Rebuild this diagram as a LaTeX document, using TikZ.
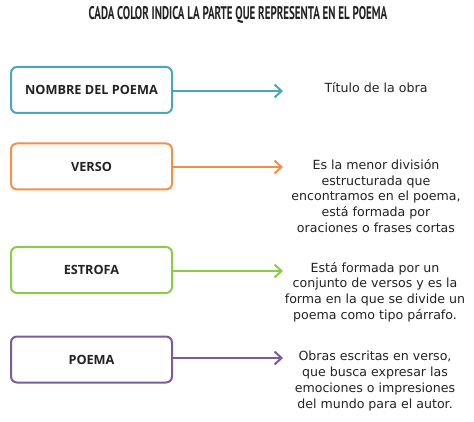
\documentclass[tikz,border=0pt]{standalone}
\usepackage{fontspec}
\setmainfont{DejaVu Sans}
\newfontfamily\boxfont{Open Sans}
\newfontfamily\titlefont[FakeStretch=0.6]{PT Sans}
\usetikzlibrary{arrows.meta}
\definecolor{cblue}{HTML}{4AA6BE}
\definecolor{corange}{HTML}{F0904A}
\definecolor{cgreen}{HTML}{8CCB4A}
\definecolor{cpurple}{HTML}{7A5C9E}
\definecolor{txt}{HTML}{222222}
\tikzset{
  labelbox/.style={draw=#1, line width=2pt, rounded corners=6pt, minimum width=161pt, minimum height=46pt, inner sep=0pt, font=\boxfont\bfseries\fontsize{12.7}{14}\selectfont, text=txt},
  conn/.style={draw=#1, line width=2pt, -{Straight Barb[length=7pt,width=13pt,line width=2pt]}},
  desc/.style={align=center, font=\fontsize{12.6}{15.8}\selectfont, text=txt, inner sep=0pt},
}
\begin{document}
\begin{tikzpicture}[x=1pt,y=-1pt]
\useasboundingbox (0,0) rectangle (474,422);
\node[font=\titlefont\bfseries\fontsize{18.3}{20}\selectfont, text=txt] (title) at (238,15) {CADA COLOR INDICA LA PARTE QUE REPRESENTA EN EL POEMA};

\node[labelbox=cblue] (b1) at (91.5,90) {NOMBRE DEL POEMA};
\node[labelbox=corange] (b2) at (91.5,166.5) {VERSO};
\node[labelbox=cgreen] (b3) at (91.5,270) {ESTROFA};
\node[labelbox=cpurple] (b4) at (91.5,359.5) {POEMA};

\coordinate (e1) at (283,91);
\coordinate (e2) at (283,167);
\coordinate (e3) at (283,271);
\coordinate (e4) at (283,358);

\draw[conn=cblue] (b1.east |- e1) -- (e1);
\draw[conn=corange] (b2.east |- e2) -- (e2);
\draw[conn=cgreen] (b3.east |- e3) -- (e3);
\draw[conn=cpurple] (b4.east |- e4) -- (e4);

\node[desc] (d1) at (376,88) {Título de la obra};
\node[desc] (d2) at (376,196) {Es la menor división\\estructurada que\\encontramos en el poema,\\está formada por\\oraciones o frases cortas};
\node[desc] (d3) at (375,292) {Está formada por un\\conjunto de versos y es la\\forma en la que se divide un\\poema como tipo párrafo.};
\node[desc] (d4) at (375,381) {Obras escritas en verso,\\que busca expresar las\\emociones o impresiones\\del mundo para el autor.};
\end{tikzpicture}
\end{document}
